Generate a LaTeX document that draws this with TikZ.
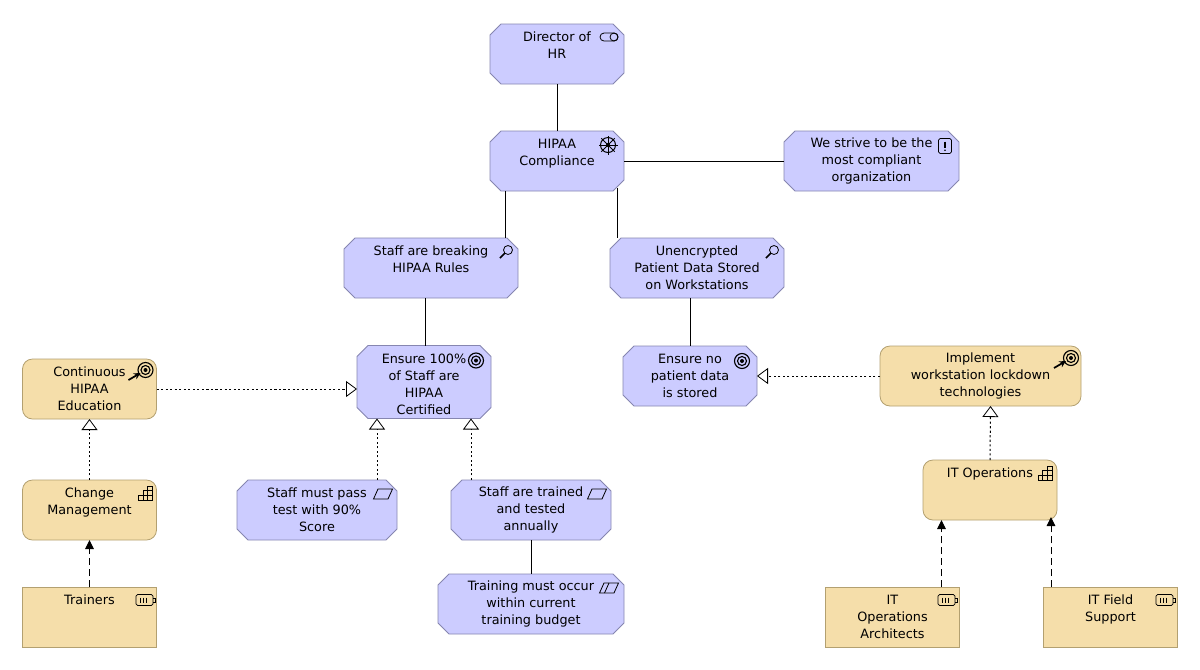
\documentclass[tikz,border=0pt]{standalone}
\usepackage{fontspec}
\setmainfont{DejaVu Sans}
\usetikzlibrary{arrows.meta}

\definecolor{motivfill}{HTML}{CCCCFF}
\definecolor{motivline}{HTML}{8686B0}
\definecolor{stratfill}{HTML}{F5DEAA}
\definecolor{stratline}{HTML}{B3A070}

% rectangle with cut corners, north east etc. stay on the outer box
\makeatletter
\pgfdeclareshape{octabox}{
  \inheritsavedanchors[from=rectangle]
  \inheritanchorborder[from=rectangle]
  \inheritanchor[from=rectangle]{center}
  \inheritanchor[from=rectangle]{north}
  \inheritanchor[from=rectangle]{south}
  \inheritanchor[from=rectangle]{east}
  \inheritanchor[from=rectangle]{west}
  \inheritanchor[from=rectangle]{north east}
  \inheritanchor[from=rectangle]{north west}
  \inheritanchor[from=rectangle]{south east}
  \inheritanchor[from=rectangle]{south west}
  \backgroundpath{
    \southwest \edef\oxa{\the\pgf@x}\edef\oya{\the\pgf@y}
    \northeast \edef\oxb{\the\pgf@x}\edef\oyb{\the\pgf@y}
    \def\ocut{8.25pt}
    \pgfpathmoveto{\pgfqpoint{\dimexpr\oxa+\ocut\relax}{\oya}}
    \pgfpathlineto{\pgfqpoint{\dimexpr\oxb-\ocut\relax}{\oya}}
    \pgfpathlineto{\pgfqpoint{\oxb}{\dimexpr\oya+\ocut\relax}}
    \pgfpathlineto{\pgfqpoint{\oxb}{\dimexpr\oyb-\ocut\relax}}
    \pgfpathlineto{\pgfqpoint{\dimexpr\oxb-\ocut\relax}{\oyb}}
    \pgfpathlineto{\pgfqpoint{\dimexpr\oxa+\ocut\relax}{\oyb}}
    \pgfpathlineto{\pgfqpoint{\oxa}{\dimexpr\oyb-\ocut\relax}}
    \pgfpathlineto{\pgfqpoint{\oxa}{\dimexpr\oya+\ocut\relax}}
    \pgfpathclose
  }
}
\makeatother

\tikzset{
  boxsize/.style 2 args={minimum width=#1*0.75pt, minimum height=#2*0.75pt},
  boxtext/.style={inner sep=0pt, outer sep=0pt, align=center, font=\fontsize{9.6}{12.75}\selectfont, line width=0.6pt},
  motivbox/.style={boxtext, draw=motivline, fill=motivfill, shape=octabox},
  capbox/.style={boxtext, draw=stratline, fill=stratfill, rectangle, rounded corners=7.5pt},
  resbox/.style={boxtext, draw=stratline, fill=stratfill, rectangle},
  assoc/.style={line width=0.75pt},
  realize/.style={line width=0.75pt, dash pattern=on 1.6pt off 1.8pt,
    -{Triangle[open, fill=white, length=8.25pt, width=12pt, line width=0.6pt]}},
  serve/.style={line width=0.75pt, dash pattern=on 5.2pt off 3pt,
    -{Triangle[length=6.75pt, width=6.5pt]}},
  icon/.style={line width=0.6pt},
  pics/pillicon/.style={code={
    \draw[icon, rounded corners=3pt] (-9,-4) rectangle (9,4);
    \draw[icon] (5,0) circle (4);
  }},
  pics/wheelicon/.style={code={
    \draw[icon, line width=0.75pt] (0,0) circle (7.5);
    \fill (0,0) circle (2);
    \foreach \a in {0,45,...,315} \draw[icon, line width=0.75pt] (0,0) -- (\a:9.5);
  }},
  pics/principleicon/.style={code={
    \draw[icon, rounded corners=1.2pt] (-6.5,-7.5) rectangle (6.5,7.5);
    \draw[line width=1.1pt] (0,-4.5) -- (0,1.5);
    \fill (0,4.2) circle (0.9);
  }},
  pics/lensicon/.style={code={
    \draw[icon] (2,-2) circle (4.5);
    \draw[line width=1.1pt] (-1.2,1.2) -- (-6,6);
  }},
  pics/goalicon/.style={code={
    \draw[line width=0.85pt] (0,0) circle (7.5);
    \draw[line width=0.85pt] (0,0) circle (4.5);
    \fill (0,0) circle (2);
  }},
  pics/outcomeicon/.style={code={
    \pic {goalicon};
    \draw[line width=1.3pt, -{Stealth[length=5pt, width=5pt]}] (-17,10) -- (-5,3);
  }},
  pics/stairicon/.style={code={
    \draw[icon] (-7,7) rectangle (7,2.3);
    \draw[icon] (-2.3,2.3) rectangle (7,-2.3);
    \draw[icon] (2.3,-2.3) rectangle (7,-7);
    \draw[icon] (-2.3,2.3) -- (-2.3,7) (2.3,-2.3) -- (2.3,7);
  }},
  pics/batteryicon/.style={code={
    \draw[icon, rounded corners=1.2pt] (-9.5,-5.5) rectangle (7.5,5.5);
    \draw[icon] (7.5,-2) -- (9.5,-2) -- (9.5,2) -- (7.5,2);
    \draw[icon] (-5,-2.5) -- (-5,2.5) (-2,-2.5) -- (-2,2.5) (1,-2.5) -- (1,2.5);
  }},
  pics/reqicon/.style={code={
    \draw[icon] (-9.5,5) -- (-5,-5) -- (9.5,-5) -- (5,5) -- cycle;
  }},
  pics/constrainticon/.style={code={
    \draw[icon] (-9.5,5) -- (-5,-5) -- (9.5,-5) -- (5,5) -- cycle;
    \draw[icon] (-4.5,5) -- (0,-5);
  }},
}

\begin{document}
\begin{tikzpicture}[x=0.75pt, y=-0.75pt]
  \useasboundingbox (0,0) rectangle (1200,669);

  % Motivation boxes
  \node[motivbox, boxsize={134}{60}] (hr) at (557,54) {Director of\\HR\\~};
  \node[motivbox, boxsize={134}{60}] (hipaa) at (557,161) {HIPAA\\Compliance\\~};
  \node[motivbox, boxsize={175}{60}] (strive) at (871.5,161) {We strive to be the\\most compliant\\organization};
  \node[motivbox, boxsize={174}{60}] (breaking) at (431,268) {Staff are breaking\\HIPAA Rules\\~};
  \node[motivbox, boxsize={174}{60}] (unencrypted) at (697,268) {Unencrypted\\Patient Data Stored\\on Workstations};
  \node[motivbox, boxsize={134}{73}] (certified) at (424,382) {\rule{0pt}{10.5pt}Ensure 100\%\\of Staff are\\HIPAA\\Certified};
  \node[motivbox, boxsize={134}{60}] (nodata) at (690,376) {Ensure no\\patient data\\is stored};
  \node[motivbox, boxsize={160}{60}] (score) at (317,510) {Staff must pass\\test with 90\%\\Score};
  \node[motivbox, boxsize={160}{60}] (trained) at (531,510) {Staff are trained\\and tested\\annually};
  \node[motivbox, boxsize={186}{60}] (budget) at (531,604) {Training must occur\\within current\\training budget};

  % Strategy boxes
  \node[capbox, boxsize={134}{60}] (education) at (89.5,389) {Continuous\\HIPAA\\Education};
  \node[capbox, boxsize={134}{60}] (change) at (89.5,510) {Change\\Management\\~};
  \node[resbox, boxsize={134}{60}] (trainers) at (89.5,617) {Trainers\\~\\~};
  \node[capbox, boxsize={201}{60}] (lockdown) at (980.5,376) {Implement\\workstation lockdown\\technologies};
  \node[capbox, boxsize={134}{60}] (itops) at (990,490) {IT Operations\\~\\~};
  \node[resbox, boxsize={134}{60}] (architects) at (892.5,617) {IT\\Operations\\Architects};
  \node[resbox, boxsize={134}{60}] (field) at (1110.5,617) {IT Field\\Support\\~};

  % Icons
  \pic at ([shift={(-15,13)}]hr.north east) {pillicon};
  \pic at ([shift={(-16,14)}]hipaa.north east) {wheelicon};
  \pic at ([shift={(-14,15)}]strive.north east) {principleicon};
  \pic at ([shift={(-12,14)}]breaking.north east) {lensicon};
  \pic at ([shift={(-12,14)}]unencrypted.north east) {lensicon};
  \pic at ([shift={(-15,15)}]certified.north east) {goalicon};
  \pic at ([shift={(-15,15)}]nodata.north east) {goalicon};
  \pic at ([shift={(-14,14)}]score.north east) {reqicon};
  \pic at ([shift={(-14,14)}]trained.north east) {reqicon};
  \pic at ([shift={(-15,14)}]budget.north east) {constrainticon};
  \pic at ([shift={(-11,11)}]education.north east) {outcomeicon};
  \pic at ([shift={(-10,12)}]lockdown.north east) {outcomeicon};
  \pic at ([shift={(-11,13)}]change.north east) {stairicon};
  \pic at ([shift={(-12,13)}]itops.north east) {stairicon};
  \pic at ([shift={(-11,13)}]trainers.north east) {batteryicon};
  \pic at ([shift={(-12,13)}]architects.north east) {batteryicon};
  \pic at ([shift={(-12,13)}]field.north east) {batteryicon};

  % Plain associations
  \draw[assoc] (hr) -- (hipaa);
  \draw[assoc] (hipaa) -- (strive);
  \draw[assoc] ([shift={(-52,0)}]hipaa.south) -- ([shift={(74,0)}]breaking.north);
  \draw[assoc] ([shift={(60,-3)}]hipaa.south) -- ([shift={(-80,0)}]unencrypted.north);
  \draw[assoc] ([shift={(-6,0)}]breaking.south) -- ([shift={(1,0)}]certified.north);
  \draw[assoc] (unencrypted.south -| nodata.north) -- (nodata);
  \draw[assoc] (trained) -- (budget);

  % Realizations
  \draw[realize] (education.east) -- ([shift={(0,7)}]certified.west);
  \draw[realize] (lockdown.west) -- (nodata.east);
  \draw[realize] (change) -- (education);
  \draw[realize] ([shift={(60,0)}]score.north) -- ([shift={(-47,0)}]certified.south);
  \draw[realize] ([shift={(-60,0)}]trained.north) -- ([shift={(47,0)}]certified.south);
  \draw[realize] (itops.north) -- ([shift={(10,0)}]lockdown.south);

  % Servings
  \draw[serve] (trainers) -- (change);
  \draw[serve] ([shift={(49,0)}]architects.north) -- ([shift={(-48.5,0)}]itops.south);
  \draw[serve] ([shift={(-59.5,0)}]field.north) -- ([shift={(61,-3)}]itops.south);
\end{tikzpicture}
\end{document}
